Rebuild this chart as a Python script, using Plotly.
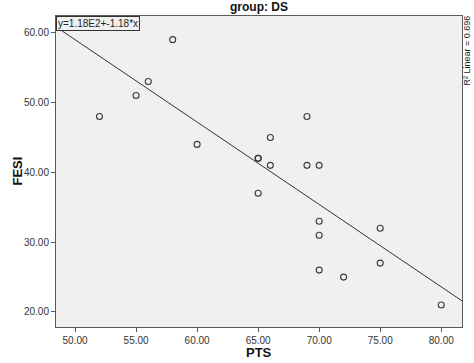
import plotly.graph_objects as go

pts = [58, 56, 55, 52, 60, 65, 65, 69, 66, 66, 69, 70, 65, 70, 75, 70, 75, 70, 72, 80]
fesi = [59, 53, 51, 48, 44, 42, 42, 48, 45, 41, 41, 41, 37, 33, 32, 31, 27, 26, 25, 21]
intercept = 118.0
slope = -1.18
r2_text = "R² Linear = 0.696"
eq_text = "y=1.18E2+-1.18*x"

x_range = [48.44, 81.70]
y_range = [17.85, 62.39]
x_ticks = [50, 55, 60, 65, 70, 75, 80]
y_ticks = [20, 30, 40, 50, 60]

fig = go.Figure()
fig.add_trace(go.Scatter(
    x=x_range, y=[intercept + slope * v for v in x_range],
    mode="lines", line=dict(color="#333333", width=1), hoverinfo="skip"))
fig.add_trace(go.Scatter(
    x=pts, y=fesi, mode="markers",
    marker=dict(symbol="circle-open", size=6, color="#3a3a3a", line=dict(width=1.1))))

axis_common = dict(showgrid=False, zeroline=False, showline=True, mirror=True,
                   linecolor="#5a5a5a", linewidth=1, ticks="outside", ticklen=4,
                   tickcolor="#5a5a5a", tickformat=".2f", automargin=False,
                   tickfont=dict(family="Liberation Sans, Arial", size=10, color="#333333"))

title_font = dict(family="Liberation Sans, Arial", size=13, color="#111111")

fig.update_layout(
    width=474, height=363,
    margin=dict(l=56, r=12, t=16, b=36, autoexpand=False),
    paper_bgcolor="white", plot_bgcolor="#f0f0f0",
    showlegend=False,
    xaxis=dict(range=x_range, tickvals=x_ticks, **axis_common),
    yaxis=dict(range=y_range, tickvals=y_ticks, **axis_common),
    annotations=[
        dict(text="<b>group: DS</b>", xref="paper", yref="paper", x=0.5, y=1,
             xanchor="center", yanchor="bottom", yshift=0, showarrow=False,
             font=dict(family="Liberation Sans, Arial", size=12, color="#111111")),
        dict(text="<b>PTS</b>", xref="paper", yref="paper", x=0.5, y=0,
             xanchor="center", yanchor="middle", yshift=-25, showarrow=False,
             font=title_font),
        dict(text="<b>FESI</b>", xref="paper", yref="paper", x=0, y=0.5,
             xanchor="center", yanchor="middle", xshift=-39, showarrow=False,
             textangle=-90, font=title_font),
        dict(text=eq_text, xref="paper", yref="paper", x=0, y=1,
             xanchor="left", yanchor="top", showarrow=False,
             bgcolor="#f0f0f0", bordercolor="#333333", borderwidth=1, borderpad=1,
             font=dict(family="Liberation Sans, Arial", size=10, color="#222222")),
        dict(text=r2_text, xref="paper", yref="paper", x=1, y=1.005,
             xanchor="right", yanchor="top", xshift=11, showarrow=False, textangle=-90,
             borderpad=0,
             font=dict(family="Liberation Sans, Arial", size=9, color="#222222")),
    ],
)

fig.write_html("out.html", config={"displayModeBar": False},
               post_script="document.body.style.margin='0';document.body.style.overflow='hidden';")
